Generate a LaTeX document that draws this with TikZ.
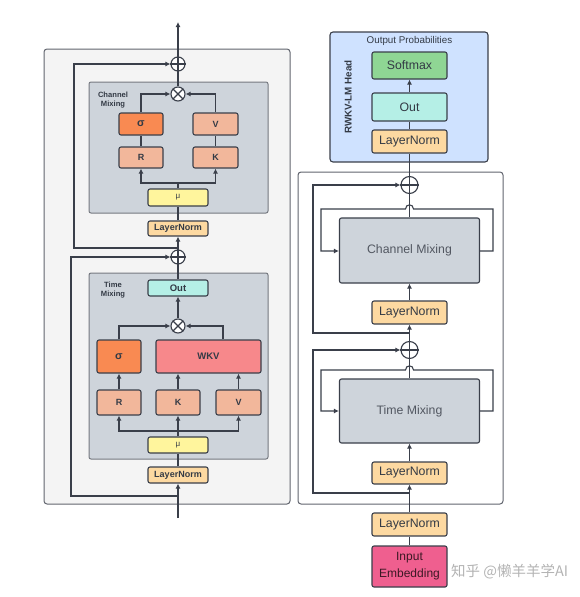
\documentclass[tikz,border=0pt]{standalone}
\usepackage{fontspec}
\setmainfont{Liberation Sans}
\newfontfamily\cjkfont{Noto Sans CJK SC}
\usetikzlibrary{arrows.meta}
\definecolor{ln}{HTML}{3A3F4A}
\definecolor{txt}{HTML}{333A45}
\definecolor{outerbg}{HTML}{F4F4F4}
\definecolor{mixbg}{HTML}{CED4DB}
\definecolor{sigc}{HTML}{F98A52}
\definecolor{salm}{HTML}{F2B79B}
\definecolor{wkvc}{HTML}{F7888B}
\definecolor{muc}{HTML}{FFF59D}
\definecolor{lnc}{HTML}{FDD9A1}
\definecolor{outc}{HTML}{B5EFE6}
\definecolor{smc}{HTML}{8FD694}
\definecolor{headc}{HTML}{CFE2FF}
\definecolor{embc}{HTML}{EF5F8F}
\tikzset{
  blk/.style={draw=ln, line width=1.1pt, rounded corners=2pt, inner sep=0pt, text=txt, align=center},
  lbl/.style={blk, font=\fontsize{9}{10}\selectfont\bfseries},
  rbl/.style={blk, font=\fontsize{12.3}{14}\selectfont},
  conn/.style={draw=ln, line width=1.1pt},
  arr/.style={conn, -{Latex[length=5pt,width=5pt]}},
  opL/.style={circle, draw=ln, line width=1.1pt, minimum size=14pt, inner sep=0pt, fill=white},
  opR/.style={circle, draw=ln, line width=1.1pt, minimum size=17pt, inner sep=0pt, fill=white},
  panel/.style={draw=ln!80, line width=1pt, rounded corners=3pt},
}
\newcommand{\oplusmark}[1]{\draw[conn] (#1.north) -- (#1.south) (#1.west) -- (#1.east);}
\newcommand{\otimesmark}[1]{\draw[conn] (#1.north east) -- (#1.south west) (#1.north west) -- (#1.south east);}
\begin{document}
\begin{tikzpicture}[x=1pt,y=-1pt]
\useasboundingbox (0,0) rectangle (580,597);

% ---------------- LEFT PANEL ----------------
\node[panel, fill=outerbg, minimum width=246pt, minimum height=455pt] (outerL) at (167,276.5) {};
\node[draw=ln!70, line width=1pt, rounded corners=2pt, fill=mixbg, minimum width=179pt, minimum height=131pt] (cmL) at (178.5,147.5) {};
\node[draw=ln!70, line width=1pt, rounded corners=2pt, fill=mixbg, minimum width=179pt, minimum height=186pt] (tmL) at (178.5,366) {};
\node[text=txt, align=center, font=\fontsize{7.6}{9}\selectfont\bfseries] (cmLlbl) at (113,100) {Channel\\Mixing};
\node[text=txt, align=center, font=\fontsize{7.6}{9}\selectfont\bfseries] (tmLlbl) at (113,290) {Time\\Mixing};

% channel mixing (left)
\node[opL] (addL1) at (178,64) {};
\node[opL] (mulL1) at (178,94) {};
\node[lbl, fill=sigc, minimum width=44pt, minimum height=22pt, font=\fontsize{11}{12}\selectfont\bfseries] (sigL1) at (141,124) {σ};
\node[lbl, fill=salm, minimum width=45pt, minimum height=22pt] (vL1) at (215.5,124) {V};
\node[lbl, fill=salm, minimum width=44pt, minimum height=21pt] (rL1) at (141,157.5) {R};
\node[lbl, fill=salm, minimum width=45pt, minimum height=21pt] (kL1) at (215.5,157.5) {K};
\node[lbl, fill=muc, minimum width=60pt, minimum height=17pt, font=\fontsize{8}{9}\selectfont] (muL1) at (178,197.5) {μ};
\node[lbl, fill=lnc, minimum width=60pt, minimum height=15pt, font=\fontsize{9}{10}\selectfont\bfseries] (lnL1) at (178,228.5) {LayerNorm};
\node[opL] (addL2) at (178,257) {};

% time mixing (left)
\node[lbl, fill=outc, minimum width=60pt, minimum height=16pt, font=\fontsize{9.5}{10}\selectfont\bfseries] (outL2) at (178,288) {Out};
\node[opL] (mulL2) at (178,326) {};
\node[lbl, fill=sigc, minimum width=44pt, minimum height=33pt, font=\fontsize{11}{12}\selectfont\bfseries] (sigL2) at (119,356.5) {σ};
\node[lbl, fill=wkvc, minimum width=105pt, minimum height=33pt, font=\fontsize{9.5}{10}\selectfont\bfseries] (wkv) at (208.5,356.5) {WKV};
\node[lbl, fill=salm, minimum width=44pt, minimum height=25pt] (rL2) at (119,402.5) {R};
\node[lbl, fill=salm, minimum width=44pt, minimum height=25pt] (kL2) at (178,402.5) {K};
\node[lbl, fill=salm, minimum width=45pt, minimum height=25pt] (vL2) at (238.5,402.5) {V};
\node[lbl, fill=muc, minimum width=60pt, minimum height=16pt, font=\fontsize{8}{9}\selectfont] (muL2) at (178,445) {μ};
\node[lbl, fill=lnc, minimum width=60pt, minimum height=16pt, font=\fontsize{9}{10}\selectfont\bfseries] (lnL2) at (178,475) {LayerNorm};

\coordinate (inL) at (178,518);
\coordinate (topL) at (178,22);
\coordinate (jL2) at (178,431);
\coordinate (jL1) at (178,183);
\coordinate (sk1a) at (178,248);
\coordinate (sk1b) at (74,248);
\coordinate (sk2a) at (178,496);
\coordinate (sk2b) at (71,496);

\draw[arr] (inL) -- (lnL2.south);
\draw[conn] (lnL2.north) -- (muL2.south);
\draw[arr] (muL2.north) -- (kL2.south);
\draw[arr] (jL2) -| (rL2.south);
\draw[arr] (jL2) -| (vL2.south);
\draw[arr] (rL2.north) -- (sigL2.south);
\draw[arr] (kL2.north) -- (kL2.north |- wkv.south);
\draw[arr] (vL2.north) -- (vL2.north |- wkv.south);
\draw[arr] (sigL2.north) |- (mulL2.west);
\draw[arr] ([xshift=14.5pt]wkv.north) |- (mulL2.east);
\draw[arr] (mulL2.north) -- (outL2.south);
\draw[conn] (outL2.north) -- (addL2.south);
\draw[arr] (addL2.north) -- (lnL1.south);
\draw[conn] (lnL1.north) -- (muL1.south);
\draw[conn] (muL1.north) -- (jL1);
\draw[arr] (jL1) -| (rL1.south);
\draw[arr] (jL1) -| (kL1.south);
\draw[conn] (rL1.north) -- (sigL1.south);
\draw[conn] (kL1.north) -- (vL1.south);
\draw[arr] (sigL1.north) |- (mulL1.west);
\draw[arr] (vL1.north) |- (mulL1.east);
\draw[conn] (mulL1.north) -- (addL1.south);
\draw[arr] (addL1.north) -- (topL);
\draw[arr] (sk1a) -- (sk1b) |- (addL1.west);
\draw[arr] (sk2a) -- (sk2b) |- (addL2.west);
\oplusmark{addL1}\oplusmark{addL2}
\otimesmark{mulL1}\otimesmark{mulL2}

% ---------------- RIGHT PANEL ----------------
\node[draw=ln, line width=1.1pt, rounded corners=3pt, fill=headc, minimum width=158pt, minimum height=130pt] (head) at (409,97) {};
\node[text=txt, font=\fontsize{9.8}{11}\selectfont] (outprob) at (409.5,41) {Output Probabilities};
\node[rotate=90, text=txt, font=\fontsize{9.8}{11}\selectfont\bfseries] (headlbl) at (348,97) {RWKV-LM Head};
\node[rbl, fill=smc, minimum width=75pt, minimum height=27pt] (smax) at (409.5,65.5) {Softmax};
\node[rbl, fill=outc, minimum width=75pt, minimum height=28pt] (outR) at (409.5,107) {Out};
\node[rbl, fill=lnc, minimum width=75pt, minimum height=23pt] (lnR3) at (409.5,141.5) {LayerNorm};

\node[panel, fill=white, minimum width=205pt, minimum height=332pt] (outerR) at (400.5,338) {};
\node[opR] (addR1) at (409.5,185) {};
\node[blk, fill=mixbg, minimum width=140pt, minimum height=65pt, font=\fontsize{12.3}{14}\selectfont, text=txt!85] (cm) at (409.5,250.5) {Channel Mixing};
\node[rbl, fill=lnc, minimum width=75pt, minimum height=23pt] (lnR2) at (409.5,312.5) {LayerNorm};
\node[opR] (addR2) at (409.5,350) {};
\node[blk, fill=mixbg, minimum width=140pt, minimum height=64pt, font=\fontsize{12.3}{14}\selectfont, text=txt!85] (tm) at (409.5,411) {Time Mixing};
\node[rbl, fill=lnc, minimum width=75pt, minimum height=22pt] (lnR1) at (409.5,473) {LayerNorm};
\node[rbl, fill=lnc, minimum width=75pt, minimum height=23pt] (lnR0) at (409.5,524.5) {LayerNorm};
\node[rbl, fill=embc, minimum width=75pt, minimum height=41pt, text=black!75!embc, font=\fontsize{12}{17}\selectfont] (emb) at (409.5,566.5) {Input\\Embedding};

\coordinate (skR1a) at (409.5,493);
\coordinate (skR1b) at (313,493);
\coordinate (skR2a) at (409.5,333);
\coordinate (skR2b) at (313,333);
\coordinate (tmRt) at (493,411);
\coordinate (tmRu) at (493,370);
\coordinate (tmLu) at (321,370);
\coordinate (tmLd) at (321,411);
\coordinate (cmRt) at (493,251);
\coordinate (cmRu) at (493,209);
\coordinate (cmLu) at (321,209);
\coordinate (cmLd) at (321,251);

\draw[conn] (emb.north) -- (lnR0.south);
\draw[arr] (lnR0.north) -- (lnR1.south);
\draw[arr] (skR1a) -- (skR1b) |- (addR2.west);
\draw[arr] (lnR1.north) -- (tm.south);
\draw[arr] (tm.east |- tmRt) -- (tmRt) -- (tmRu) -- (413.5,370) .. controls (413.5,364.5) and (405.5,364.5) .. (405.5,370) -- (tmLu) -- (tmLd) -- (tm.west |- tmLd);
\draw[conn] (tm.north) -- (addR2.south);
\draw[arr] (addR2.north) -- (lnR2.south);
\draw[arr] (skR2a) -- (skR2b) |- (addR1.west);
\draw[arr] (lnR2.north) -- (cm.south);
\draw[arr] (cm.east |- cmRt) -- (cmRt) -- (cmRu) -- (413.5,209) .. controls (413.5,203.5) and (405.5,203.5) .. (405.5,209) -- (cmLu) -- (cmLd) -- (cm.west |- cmLd);
\draw[conn] (cm.north) -- (addR1.south);
\draw[conn] (addR1.north) -- (lnR3.south);
\draw[conn] (lnR3.north) -- (outR.south);
\draw[arr] (outR.north) -- (smax.south);
\oplusmark{addR1}\oplusmark{addR2}

% watermark
\node[text=gray!70, opacity=0.85, font=\cjkfont\fontsize{14.5}{16}\selectfont, anchor=west, inner sep=0pt] (wm) at (451,572) {知乎 @懒羊羊学AI};
\end{tikzpicture}
\end{document}
